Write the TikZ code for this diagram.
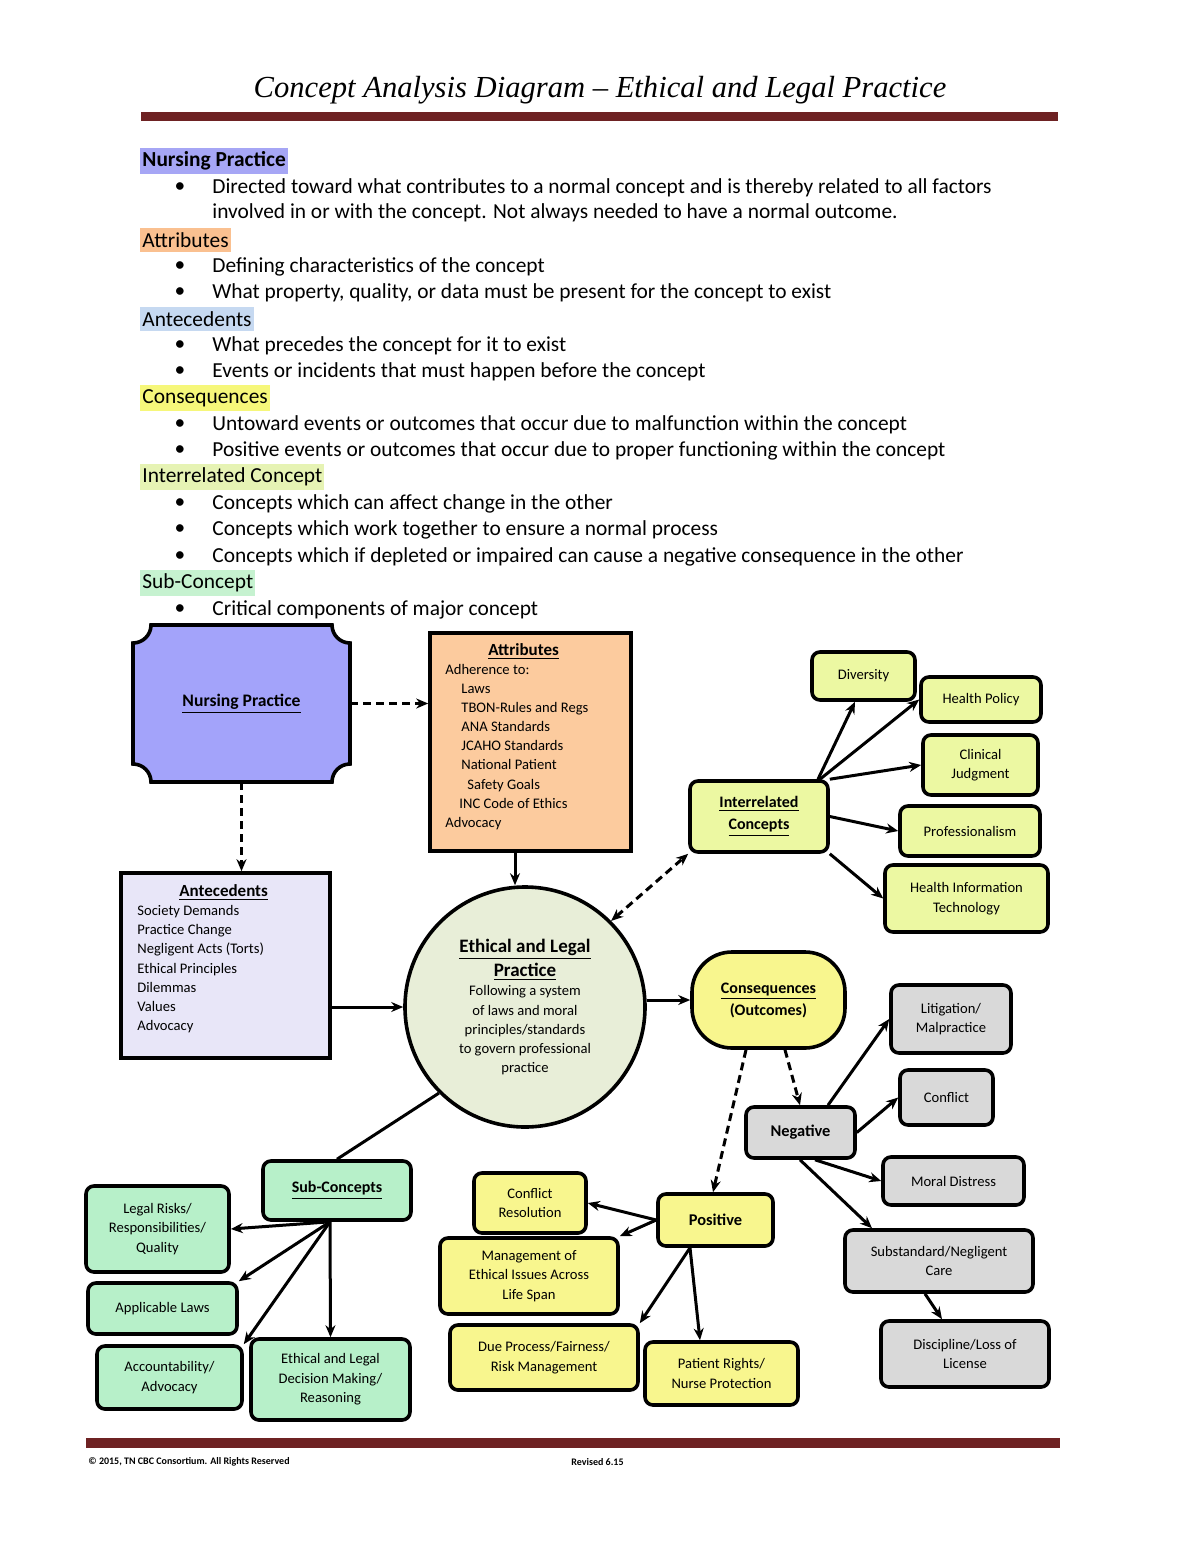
\documentclass[tikz,border=0pt]{standalone}
\usepackage{fontspec}
\setmainfont{Carlito}
\newfontfamily\titlefont{Liberation Serif}
\usetikzlibrary{arrows.meta}
\definecolor{bar}{HTML}{6E2223}
\definecolor{cNP}{HTML}{A3A3FA}
\definecolor{cAT}{HTML}{FCCB9E}
\definecolor{cAN}{HTML}{E8E6F8}
\definecolor{cCI}{HTML}{E8EED8}
\definecolor{cIC}{HTML}{ECF8A2}
\definecolor{cCO}{HTML}{F8F68E}
\definecolor{cGR}{HTML}{D9D9D9}
\definecolor{cSU}{HTML}{B7F0C9}
\definecolor{hNP}{HTML}{A6A6F5}
\definecolor{hAT}{HTML}{FAC090}
\definecolor{hAN}{HTML}{C6D9F1}
\definecolor{hCO}{HTML}{F6F77A}
\definecolor{hIC}{HTML}{E6F3B4}
\definecolor{hSU}{HTML}{C6F2D0}
\begin{document}
\begin{tikzpicture}[x=0.5pt,y=-0.5pt,
  lbl/.style={anchor=west,inner xsep=1pt,inner ysep=2pt,font=\fontsize{10.7}{12}\selectfont},
  txt/.style={anchor=west,inner sep=0pt,font=\fontsize{10.7}{12}\selectfont},
  bul/.style={anchor=center,inner sep=0pt,font=\fontsize{10.7}{12}\selectfont},
  bx/.style={draw,line width=1.8pt,rounded corners=4pt,align=center,inner sep=0pt,font=\fontsize{7.3}{9.8}\selectfont},
  arr/.style={line width=1.5pt,-{Stealth[length=6pt,width=5pt]}},
  darr/.style={arr,dashed,dash pattern=on 4pt off 2.5pt},
  ln/.style={line width=1.5pt}]
\useasboundingbox (0,0) rectangle (1200,1553);
% header
\node[font=\titlefont\itshape\fontsize{15.3}{18}\selectfont] (title) at (600,90) {Concept Analysis Diagram – Ethical and Legal Practice};
\fill[bar] (141,112) rectangle (1058,121);
\fill[bar] (86,1438) rectangle (1060,1448);
\node[anchor=west,inner sep=0pt,font=\bfseries\fontsize{5}{6}\selectfont] (copy) at (88,1462) {© 2015, TN CBC Consortium. All Rights Reserved};
\node[anchor=west,inner sep=0pt,font=\bfseries\fontsize{5}{6}\selectfont] (rev) at (571,1462) {Revised 6.15};
% legend text
\node[lbl,fill=hNP,font=\bfseries\fontsize{10.7}{12}\selectfont] (l1) at (140,161) {Nursing Practice};
\node[bul] (b1) at (180,188) {•};
\node[txt] (t1) at (212,188) {Directed toward what contributes to a normal concept and is thereby related to all factors};
\node[txt] (t1b) at (212,213) {involved in or with the concept. Not always needed to have a normal outcome.};
\node[lbl,fill=hAT] (l2) at (140,240) {Attributes};
\node[bul] (b2) at (180,267) {•};
\node[txt] (t2) at (212,267) {Defining characteristics of the concept};
\node[bul] (b3) at (180,293) {•};
\node[txt] (t3) at (212,293) {What property, quality, or data must be present for the concept to exist};
\node[lbl,fill=hAN] (l3) at (140,319) {Antecedents};
\node[bul] (b4) at (180,346) {•};
\node[txt] (t4) at (212,346) {What precedes the concept for it to exist};
\node[bul] (b5) at (180,372) {•};
\node[txt] (t5) at (212,372) {Events or incidents that must happen before the concept};
\node[lbl,fill=hCO] (l4) at (140,398) {Consequences};
\node[bul] (b6) at (180,425) {•};
\node[txt] (t6) at (212,425) {Untoward events or outcomes that occur due to malfunction within the concept};
\node[bul] (b7) at (180,451) {•};
\node[txt] (t7) at (212,451) {Positive events or outcomes that occur due to proper functioning within the concept};
\node[lbl,fill=hIC] (l5) at (140,477) {Interrelated Concept};
\node[bul] (b8) at (180,504) {•};
\node[txt] (t8) at (212,504) {Concepts which can affect change in the other};
\node[bul] (b9) at (180,530) {•};
\node[txt] (t9) at (212,530) {Concepts which work together to ensure a normal process};
\node[bul] (b10) at (180,557) {•};
\node[txt] (t10) at (212,557) {Concepts which if depleted or impaired can cause a negative consequence in the other};
\node[lbl,fill=hSU] (l6) at (140,583) {Sub-Concept};
\node[bul] (b11) at (180,610) {•};
\node[txt] (t11) at (212,610) {Critical components of major concept};
% nursing practice shape
\filldraw[fill=cNP,line width=1.8pt] (151,625) -- (332,625) arc[start angle=180,end angle=270,radius=9pt] -- (350,764) arc[start angle=90,end angle=180,radius=9pt] -- (151,782) arc[start angle=0,end angle=90,radius=9pt] -- (133,643) arc[start angle=270,end angle=360,radius=9pt] -- cycle;
\node[minimum width=108.5pt,minimum height=78.5pt,inner sep=0pt,font=\bfseries\fontsize{8.8}{10}\selectfont] (np) at (241.5,703.5) {\underline{Nursing Practice}};
% attributes
\node[draw,line width=1.8pt,fill=cAT,minimum width=100.5pt,minimum height=109pt,inner sep=0pt] (at) at (530.5,742) {};
\node[anchor=north west,align=left,inner sep=0pt,font=\fontsize{7.3}{9.55}\selectfont] (attxt) at (445,643) {\hspace*{21.5pt}{\bfseries\fontsize{8.5}{10}\selectfont\underline{Attributes}}\\Adherence to:\\\hspace*{8pt}Laws\\\hspace*{8pt}TBON-Rules and Regs\\\hspace*{8pt}ANA Standards\\\hspace*{8pt}JCAHO Standards\\\hspace*{8pt}National Patient\\\hspace*{11pt}Safety Goals\\\hspace*{7pt}INC Code of Ethics\\Advocacy};
% antecedents
\node[draw,line width=1.8pt,fill=cAN,minimum width=104.5pt,minimum height=92.5pt,inner sep=0pt] (an) at (225.5,965.5) {};
\node[anchor=north west,align=left,inner sep=0pt,font=\fontsize{7.3}{9.6}\selectfont] (antxt) at (137,884) {\hspace*{21pt}{\bfseries\fontsize{8.5}{10}\selectfont\underline{Antecedents}}\\Society Demands\\Practice Change\\Negligent Acts (Torts)\\Ethical Principles\\Dilemmas\\Values\\Advocacy};
% central circle
\node[draw,circle,line width=1.8pt,fill=cCI,minimum size=120pt,inner sep=0pt,align=center,font=\fontsize{7.3}{9.6}\selectfont] (ci) at (525,1007) {{\bfseries\fontsize{9.5}{12}\selectfont\underline{Ethical and Legal}}\\[1pt]{\bfseries\fontsize{9.5}{12}\selectfont\underline{Practice}}\\Following a system\\of laws and moral\\principles/standards\\to govern professional\\practice};
% interrelated
\node[bx,fill=cIC,minimum width=69pt,minimum height=35.5pt,font=\bfseries\fontsize{8}{11}\selectfont] (ic) at (759,816.5) {\underline{Interrelated}\\\underline{Concepts}};
\node[bx,fill=cIC,minimum width=51.5pt,minimum height=24pt] (div) at (863.5,676) {Diversity};
\node[bx,fill=cIC,minimum width=60pt,minimum height=22.5pt] (hp) at (981,699.5) {Health Policy};
\node[bx,fill=cIC,minimum width=57.5pt,minimum height=30pt] (cj) at (980.5,765) {Clinical\\Judgment};
\node[bx,fill=cIC,minimum width=70pt,minimum height=25pt] (pr) at (970,831) {Professionalism};
\node[bx,fill=cIC,minimum width=81.5pt,minimum height=33.5pt] (hit) at (966.5,898.5) {Health Information\\Technology};
% consequences
\node[draw,line width=1.8pt,fill=cCO,rounded corners=20pt,minimum width=76.5pt,minimum height=48pt,inner sep=0pt,align=center,font=\bfseries\fontsize{8}{11}\selectfont] (co) at (768.5,1000) {\underline{Consequences}\\(Outcomes)};
\node[bx,fill=cGR,minimum width=54.5pt,minimum height=25.5pt,font=\bfseries\fontsize{8.2}{10}\selectfont] (neg) at (800.5,1132.5) {Negative};
\node[bx,fill=cGR,minimum width=60pt,minimum height=34pt] (lit) at (951,1019) {Litigation/\\Malpractice};
\node[bx,fill=cGR,minimum width=46.5pt,minimum height=27.5pt] (cf) at (946.5,1097.5) {Conflict};
\node[bx,fill=cGR,minimum width=70.5pt,minimum height=24pt] (md) at (953.5,1181) {Moral Distress};
\node[bx,fill=cGR,minimum width=94pt,minimum height=31pt] (ss) at (939,1261) {Substandard/Negligent\\Care};
\node[bx,fill=cGR,minimum width=84pt,minimum height=33pt] (dl) at (965,1354) {Discipline/Loss of\\License};
\node[bx,fill=cCO,minimum width=57.5pt,minimum height=26pt,font=\bfseries\fontsize{8.2}{10}\selectfont] (pos) at (715.5,1220) {Positive};
\node[bx,fill=cCO,minimum width=56pt,minimum height=30pt] (cr) at (530,1203) {Conflict\\Resolution};
\node[bx,fill=cCO,minimum width=89pt,minimum height=38pt] (me) at (529,1276) {Management of\\Ethical Issues Across\\Life Span};
\node[bx,fill=cCO,minimum width=94pt,minimum height=32.5pt] (dp) at (544,1357.5) {Due Process/Fairness/\\Risk Management};
\node[bx,fill=cCO,minimum width=76.5pt,minimum height=31.5pt] (ptr) at (721.5,1373.5) {Patient Rights/\\Nurse Protection};
% sub-concepts
\node[bx,fill=cSU,minimum width=74pt,minimum height=29.5pt,font=\bfseries\fontsize{8}{10}\selectfont] (sc) at (337,1190.5) {\underline{Sub-Concepts}};
\node[bx,fill=cSU,minimum width=71.5pt,minimum height=43pt] (lr) at (157.5,1229) {Legal Risks/\\Responsibilities/\\Quality};
\node[bx,fill=cSU,minimum width=74.5pt,minimum height=25.5pt] (al) at (162.5,1308.5) {Applicable Laws};
\node[bx,fill=cSU,minimum width=72.5pt,minimum height=31.5pt] (ac) at (169.5,1377.5) {Accountability/\\Advocacy};
\node[bx,fill=cSU,minimum width=79.5pt,minimum height=40.5pt] (el) at (330.5,1379.5) {Ethical and Legal\\Decision Making/\\Reasoning};
% connectors
\draw[darr] (np.east) -- (at.west |- np.east);
\draw[darr] (np.south) -- (an.north -| np.south);
\draw[arr] (at.south -| 515,0) -- (ci.north -| 515,0);
\draw[arr] (an.east |- ci.west) -- (ci.west);
\draw[darr,{Stealth[length=6pt,width=5pt]}-{Stealth[length=6pt,width=5pt]}] (ci.45) -- (ic.south west);
\draw[arr] (ic.north -| 818,0) -- (div.south -| 855,0);
\draw[arr] (ic.north -| 820,0) -- (hp.west);
\draw[arr] (ic.north east) -- (cj.west);
\draw[arr] (ic.east) -- (pr.west);
\draw[arr] (ic.south east) -- (hit.west);
\draw[arr] (ci.east |- co.west) -- (co.west);
\draw[darr] (co.south -| 785,0) -- (neg.north -| 800,0);
\draw[darr] (co.south -| 746,0) -- (pos.north -| 713,0);
\draw[arr] (neg.north -| 828,0) -- (lit.west);
\draw[arr] (neg.east) -- (cf.west);
\draw[arr] (neg.south -| 815,0) -- (md.west);
\draw[arr] (neg.south -| 800,0) -- (ss.north -| 872,0);
\draw[arr] (ss.south -| 925,0) -- (dl.north -| 942,0);
\draw[arr] (pos.west) -- (cr.east);
\draw[arr] (pos.west) -- (me.north east);
\draw[arr] (pos.south -| 690,0) -- (dp.north east);
\draw[arr] (pos.south -| 690,0) -- (ptr.north -| 700,0);
\draw[ln] (ci.225) -- (sc.north);
\draw[arr] (sc.south -| 330,0) -- (lr.east);
\draw[arr] (sc.south -| 330,0) -- (al.north east);
\draw[arr] (sc.south -| 330,0) -- (ac.north east);
\draw[arr] (sc.south -| 330,0) -- (el.north);
\end{tikzpicture}
\end{document}
